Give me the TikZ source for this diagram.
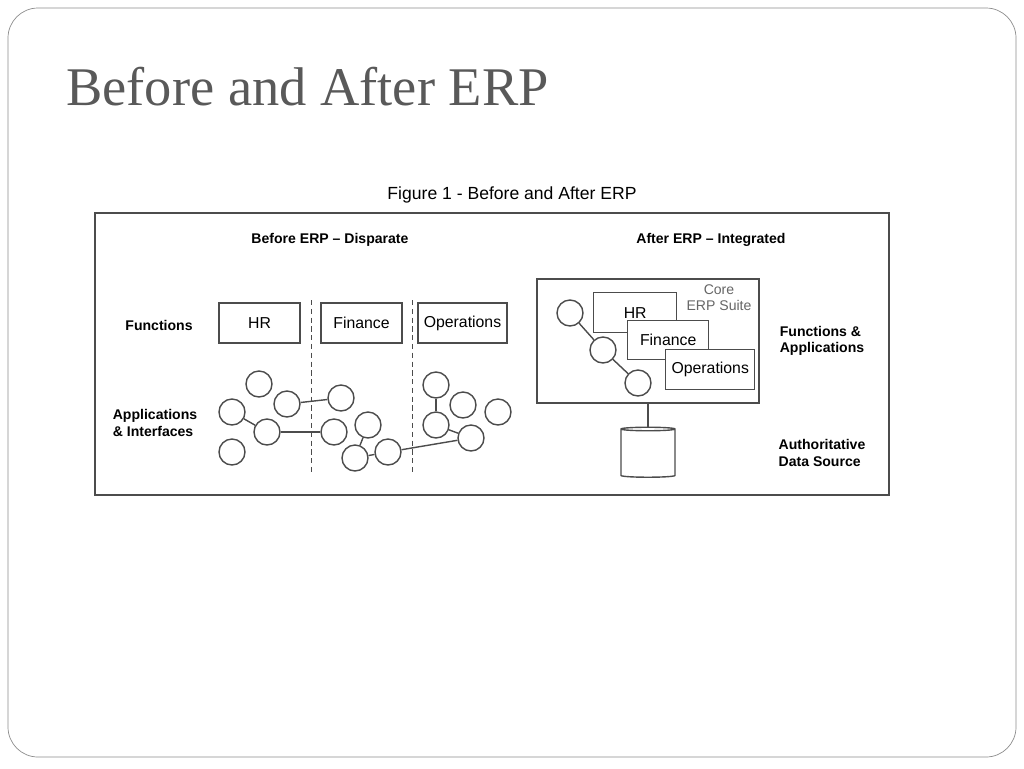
\documentclass[tikz,border=0pt]{standalone}
\usepackage{fontspec}
\setmainfont{Liberation Sans}
\newfontfamily\titlefont{Liberation Serif}
\usetikzlibrary{shapes.geometric}
\definecolor{titlegray}{HTML}{595959}
\tikzset{
  bubble/.style={circle, draw=black!70, thick, fill=white, minimum size=0.52cm, inner sep=0pt},
  func/.style={rectangle, draw=black!70, thick, fill=white, minimum width=1.62cm, minimum height=0.8cm, font=\fontsize{9}{10}\selectfont},
  lbl/.style={font=\bfseries\fontsize{8}{9.5}\selectfont, align=left},
}
\begin{document}
\begin{tikzpicture}[x=0.02cm, y=-0.02cm]
  \useasboundingbox (0,0) rectangle (1024,768);
  \draw[black!45, rounded corners=0.6cm] (8,8) rectangle (1016,757);
  \node[anchor=base west, text=titlegray, font=\titlefont\fontsize{31}{34}\selectfont] (title) at (60,105) {Before and After ERP};

  \node[font=\fontsize{10}{12}\selectfont] (caption) at (512,195) {Figure 1 - Before and After ERP};
  \draw[black!70, thick] (95,213) rectangle (889,495);
  \node[lbl] (before) at (330,240) {Before ERP -- Disparate};
  \node[lbl] (after) at (711,240) {After ERP -- Integrated};

  %% before
  \node[lbl] (functions) at (159,325) {Functions};
  \node[lbl] (apps) at (155,423) {Applications\\\& Interfaces};
  \node[func] (hr) at (259.5,323) {HR};
  \node[func] (fin) at (361.5,323) {Finance};
  \node[func] (ops) at (462.5,323) {Operations};
  \draw[densely dashed, black!70] (311,300) -- (311,472);
  \draw[densely dashed, black!70] (412,300) -- (412,472);

  \foreach \n/\x/\y in {1/259/384, 2/232/412, 3/287/404, 4/267/432, 5/232/452,
      6/341/398, 7/334/432, 8/368/425, 9/355/458, 10/388/452,
      11/436/385, 12/463/405, 13/498/412, 14/436/425, 15/471/438}
    \node[bubble] (c\n) at (\x,\y) {};
  \foreach \a/\b in {2/4, 4/7, 3/6, 8/9, 9/10, 10/15, 11/14, 14/15}
    \draw[black!70, thick] (c\a) -- (c\b);

  %% after
  \draw[black!70, thick] (537,279) rectangle (759,403);
  \node[align=center, text=black!60, font=\fontsize{8}{9}\selectfont] (core) at (719,298) {Core\\ERP Suite};
  \node[func, anchor=north west, minimum width=1.66cm] (ahr) at (593,292) {HR};
  \node[func, anchor=north west, minimum width=1.62cm, minimum height=0.78cm] (afin) at (627,320) {Finance};
  \node[func, anchor=north west, minimum width=1.62cm, minimum height=0.8cm] (aops) at (665,349) {Operations};
  \node[bubble] (a1) at (570,313) {};
  \node[bubble] (a2) at (603,350) {};
  \node[bubble] (a3) at (638,383) {};
  \draw[black!70, thick] (a1) -- (a2) -- (a3);
  \node[cylinder, shape border rotate=90, aspect=0.3, draw=black!70, thick, minimum width=1.08cm, minimum height=1.0cm] (db) at (648,454) {};
  \coordinate (core bottom) at (648,403);
  \draw[black!70, thick] (core bottom) -- (db.top);
  \node[lbl] (fa) at (822,341) {Functions \&\\Applications};
  \node[lbl] (ads) at (822,453) {Authoritative\\Data Source};
\end{tikzpicture}
\end{document}
